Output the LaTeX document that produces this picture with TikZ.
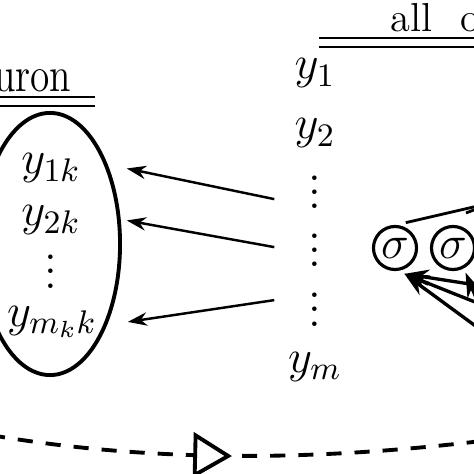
\RequirePackage{fix-cm}
\documentclass[tikz,border=0pt]{standalone}
\usepackage{tikz}
\usetikzlibrary{shapes,arrows.meta}
\usepackage{amsmath}

\begin{document}
\begin{tikzpicture}[x=0.01cm, y=-0.01cm,
    every node/.style={font=\fontsize{13.3}{16}\selectfont},
    heading/.style={inner sep=0pt},
    rule/.style={line width=0.7pt},
    item/.style={anchor=base, minimum width=1.5cm},
    outitem/.style={anchor=base, minimum width=0.8cm},
    unit/.style={draw, circle, line width=0.9pt, minimum size=0.43cm, inner sep=0pt, outer sep=0.06cm},
    feed/.style={-{Stealth[length=5.5pt, width=3.8pt]}, line width=0.7pt},
    inflow/.style={-{Stealth[length=7pt, width=4.6pt]}, line width=0.95pt},
    flow/.style={line width=1.1pt, dash pattern=on 4.3pt off 3.7pt},
    marker/.style={draw, solid, fill=white, line width=1.1pt, isosceles triangle, isosceles triangle apex angle=62, minimum height=0.33cm, inner sep=0pt}]
    \clip (0,0) rectangle (474,474);

    % headings
    \node[heading, font=\fontsize{14}{16}\selectfont, anchor=base east] (neulabel) at (72,92) {\scalebox{0.8}[1]{neuron}};
    \draw[rule] (-10,97) -- (95,97) (-10,106) -- (95,106);
    \node[heading, font=\fontsize{11.5}{13}\selectfont, anchor=base west] (alllabel) at (390,32) {all\hspace{0.7em}outputs};
    \draw[rule] (319,38) -- (560,38) (319,47) -- (560,47);

    % outputs of the neuron
    \node[draw, ellipse, line width=1.1pt, minimum width=1.4cm, minimum height=2.62cm, inner sep=0pt] (kset) at (50,244) {};
    \node[item] (y1k) at (51,174) {$y_{1k}$};
    \node[item] (y2k) at (51,226) {$y_{2k}$};
    \node[item] (kdots) at (51,288) {$\vdots$};
    \node[item] (ymk) at (52,326) {$y_{m_k k}$};

    % all outputs
    \node[outitem] (y1) at (315,79) {$y_1$};
    \node[outitem] (y2) at (315,139) {$y_2$};
    \node[outitem] (dotsA) at (315,209) {$\vdots$};
    \node[outitem] (dotsB) at (315,267) {$\vdots$};
    \node[outitem] (dotsC) at (315,326) {$\vdots$};
    \node[outitem] (ym) at (315,372) {$y_m$};

    \draw[feed] ([yshift=-0.17cm]dotsA.west) -- (y1k.east);
    \draw[feed] ([yshift=-0.07cm]dotsB.west) -- (y2k.east);
    \draw[feed] ([yshift=-0.01cm]dotsC.west) -- (ymk.east);

    % units
    \node[unit] (sigA) at (395,248) {$\sigma$};
    \node[unit] (sigB) at (453,248) {$\sigma$};

    \coordinate (upA) at (560,187);
    \coordinate (upBstart) at (466,213);
    \coordinate (upB) at (520,192);
    \draw[thick] (sigA.67) -- (upA);
    \draw[thick] (upBstart) -- (upB);

    \coordinate (inA) at (560,298);
    \coordinate (inB) at (560,336);
    \coordinate (inC) at (560,388);
    \coordinate (inD) at (500,355);
    \draw[inflow] (inA) -- (sigA.-70);
    \draw[inflow] (inB) -- (sigA.-70);
    \draw[inflow] (inC) -- (sigA.-70);
    \draw[inflow] (inD) -- (sigB.-63);

    % flow of time
    \coordinate (flowstart) at (-10,435);
    \coordinate (flowend) at (490,440);
    \draw[flow] (flowstart) .. controls (150,462) and (310,462) .. (flowend) node[marker, pos=0.447, sloped] (flowmark) {};
\end{tikzpicture}
\end{document}
